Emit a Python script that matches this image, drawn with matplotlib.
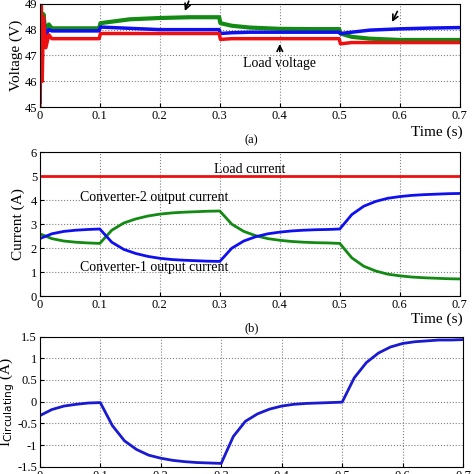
import matplotlib.pyplot as plt

plt.rcParams['font.family'] = ['Liberation Serif', 'DejaVu Serif']

# voltages (V)
tv = [0, 0.002, 0.004, 0.006, 0.01, 0.015, 0.02, 0.05, 0.099, 0.101, 0.15, 0.2, 0.25, 0.299, 0.301, 0.32, 0.35, 0.4, 0.45, 0.499, 0.501, 0.52, 0.55, 0.6, 0.65, 0.7]
v_green = [45.2, 48.9, 47.6, 48.6, 47.8, 48.2, 48.05, 48.05, 48.05, 48.25, 48.4, 48.45, 48.48, 48.48, 48.25, 48.15, 48.08, 48.03, 48.02, 48.02, 47.85, 47.72, 47.65, 47.6, 47.6, 47.6]
v_blue = [45.2, 48.7, 47.5, 48.4, 47.8, 48.0, 47.95, 47.95, 47.95, 48.1, 48.05, 48.0, 48.0, 48.0, 47.85, 47.88, 47.9, 47.9, 47.9, 47.9, 47.85, 47.9, 47.98, 48.03, 48.06, 48.08]
v_red = [45.0, 49.0, 46.0, 48.5, 47.3, 47.8, 47.65, 47.65, 47.65, 47.85, 47.85, 47.85, 47.85, 47.85, 47.62, 47.65, 47.65, 47.65, 47.65, 47.65, 47.45, 47.5, 47.5, 47.5, 47.5, 47.5]

# currents (A)
t = [0, 0.02, 0.04, 0.06, 0.08, 0.1, 0.12, 0.14, 0.16, 0.18, 0.2, 0.22, 0.24, 0.26, 0.28, 0.3,
     0.32, 0.34, 0.36, 0.38, 0.4, 0.42, 0.44, 0.46, 0.48, 0.5, 0.52, 0.54, 0.56, 0.58, 0.6,
     0.62, 0.64, 0.66, 0.68, 0.7]
i_load = [5.0] * len(t)
i_conv1 = [2.4, 2.6, 2.7, 2.75, 2.78, 2.8, 2.25, 1.95, 1.78, 1.66, 1.58, 1.53, 1.5, 1.48, 1.46, 1.45,
           2.0, 2.3, 2.48, 2.6, 2.67, 2.72, 2.75, 2.77, 2.78, 2.8, 3.4, 3.75, 3.95, 4.08, 4.15,
           4.2, 4.23, 4.25, 4.27, 4.28]
i_conv2 = [2.6, 2.4, 2.3, 2.25, 2.22, 2.2, 2.75, 3.05, 3.22, 3.34, 3.42, 3.47, 3.5, 3.52, 3.54, 3.55,
           3.0, 2.7, 2.52, 2.4, 2.33, 2.28, 2.25, 2.23, 2.22, 2.2, 1.6, 1.25, 1.05, 0.92, 0.85,
           0.8, 0.77, 0.75, 0.73, 0.72]
i_circ = [-0.32, -0.18, -0.1, -0.06, -0.03, -0.02, -0.55, -0.9, -1.1, -1.23, -1.3, -1.35, -1.38, -1.4, -1.41, -1.42,
          -0.8, -0.45, -0.28, -0.17, -0.1, -0.06, -0.04, -0.03, -0.02, -0.01, 0.55, 0.9, 1.12, 1.26, 1.34,
          1.38, 1.4, 1.42, 1.42, 1.43]

fig = plt.figure(figsize=(4.74, 4.74), dpi=100)
ax1 = fig.add_axes([0.084, 0.774, 0.886, 0.218])
ax2 = fig.add_axes([0.084, 0.375, 0.886, 0.304])
ax3 = fig.add_axes([0.084, 0.015, 0.893, 0.275])

for ax in (ax1, ax2, ax3):
    ax.grid(True, linestyle=':', color='gray', linewidth=0.8)
    ax.set_xlim(0, 0.7)
    ax.tick_params(labelsize=9, direction='in', length=3, pad=2)
    ax.set_xticks([0, 0.1, 0.2, 0.3, 0.4, 0.5, 0.6, 0.7])
    ax.set_xticklabels(['0', '0.1', '0.2', '0.3', '0.4', '0.5', '0.6', '0.7'])

ax1.plot(tv, v_green, color='#138a13', lw=3)
ax1.plot(tv, v_blue, color='#1010ee', lw=2.5)
ax1.plot(tv, v_red, color='#ee1010', lw=2.5)
ax1.set_ylim(45, 49)
ax1.set_yticks([45, 46, 47, 48, 49])
ax1.set_ylabel('Voltage (V)', fontsize=11, labelpad=1)
ax1.annotate('Load voltage', xy=(0.4, 47.55), xytext=(0.4, 46.55), ha='center', fontsize=10,
             arrowprops=dict(arrowstyle='->', color='black', lw=1.2))
ax1.annotate('', xy=(0.24, 48.62), xytext=(0.25, 49.2), annotation_clip=False,
             arrowprops=dict(arrowstyle='->', color='black', lw=1.2))
ax1.annotate('', xy=(0.585, 48.2), xytext=(0.598, 48.8),
             arrowprops=dict(arrowstyle='->', color='black', lw=1.2))
fig.text(0.975, 0.722, 'Time (s)', ha='right', va='center', fontsize=11)
fig.text(0.53, 0.703, '(a)', ha='center', va='center', fontsize=9)

ax2.plot(t, i_load, color='#ee1010', lw=2)
ax2.plot(t, i_conv2, color='#138a13', lw=2)
ax2.plot(t, i_conv1, color='#1010ee', lw=2)
ax2.set_ylim(0, 6)
ax2.set_yticks([0, 1, 2, 3, 4, 5, 6])
ax2.set_ylabel('Current (A)', fontsize=11, labelpad=4)
ax2.text(0.35, 5.15, 'Load current', ha='center', fontsize=10)
ax2.text(0.19, 3.95, 'Converter-2 output current', ha='center', fontsize=10)
ax2.text(0.19, 1.05, 'Converter-1 output current', ha='center', fontsize=10)
fig.text(0.975, 0.327, 'Time (s)', ha='right', va='center', fontsize=11)
fig.text(0.53, 0.307, '(b)', ha='center', va='center', fontsize=9)

ax3.plot(t, i_circ, color='#1a1ad0', lw=2)
ax3.set_ylim(-1.5, 1.5)
ax3.set_yticks([-1.5, -1, -0.5, 0, 0.5, 1, 1.5])
ax3.set_yticklabels(['-1.5', '-1', '-0.5', '0', '0.5', '1', '1.5'])
ax3.set_ylabel('I$_{\\mathrm{Circulating}}$ (A)', fontsize=11, labelpad=0)

fig.savefig('out.png', dpi=100)
